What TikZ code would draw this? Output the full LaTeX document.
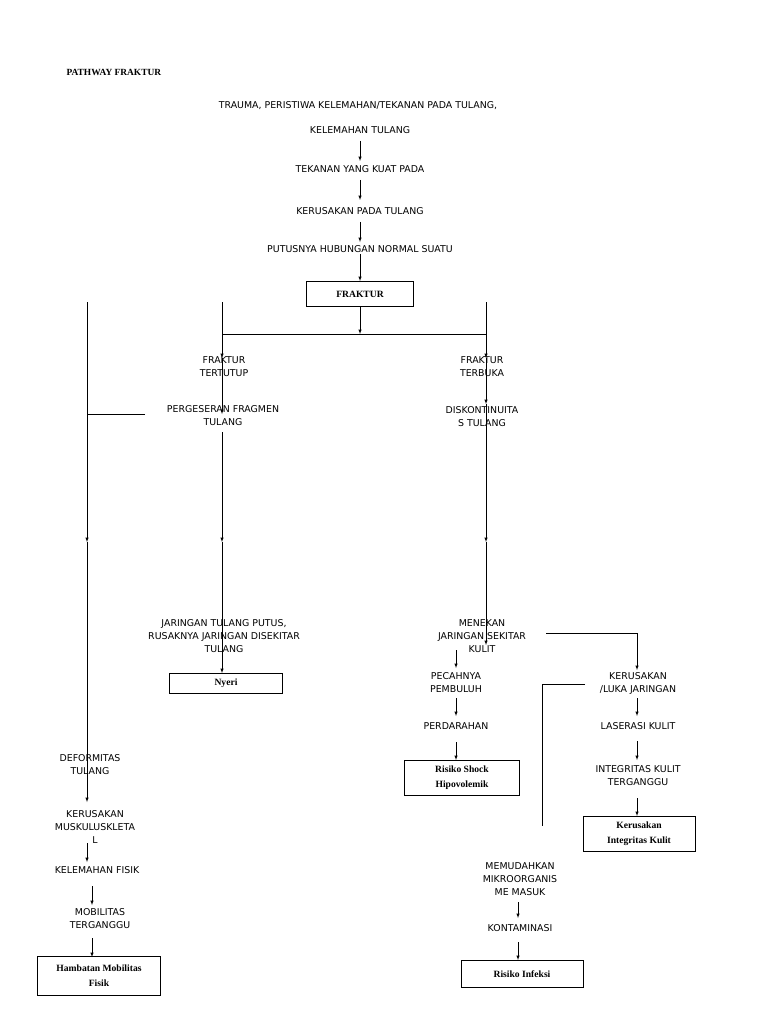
\documentclass[tikz,border=0pt]{standalone}
\usepackage{fontspec}
\setmainfont{DejaVu Sans}
\newfontfamily\boxfont{Liberation Serif}
\usetikzlibrary{positioning}
\tikzset{
  lbl/.style={font=\fontsize{9.4}{13}\selectfont, align=center, inner sep=1pt},
  res/.style={draw, line width=1pt, font=\boxfont\bfseries\fontsize{9.6}{15}\selectfont, align=center, inner sep=2pt},
  ar/.style={->, >=latex, line width=0.5pt},
  ln/.style={line width=0.5pt},
}
\begin{document}
\begin{tikzpicture}[x=1pt,y=-1pt]
  \useasboundingbox (0,0) rectangle (768,1024);
  \node[font=\boxfont\bfseries\fontsize{9.4}{9}\selectfont, anchor=west] (title) at (63,72) {PATHWAY FRAKTUR};

  % top chain
  \node[lbl] (trauma) at (358,106) {TRAUMA, PERISTIWA KELEMAHAN/TEKANAN PADA TULANG,};
  \node[lbl] (lemah) at (360,130) {KELEMAHAN TULANG};
  \node[lbl] (tekan) at (360,169) {TEKANAN YANG KUAT PADA};
  \node[lbl] (rusak) at (360,211) {KERUSAKAN PADA TULANG};
  \node[lbl] (putus) at (360,249) {PUTUSNYA HUBUNGAN NORMAL SUATU};
  \node[res, minimum width=107, minimum height=25] (fraktur) at (360,294) {FRAKTUR};
  \draw[ar] (360,141) -- (360,161);
  \draw[ar] (360,180) -- (360,200);
  \draw[ar] (360,222) -- (360,242);
  \draw[ar] (putus.south) -- (fraktur.north);

  % branch
  \coordinate (mid) at (360,334);
  \coordinate (bl) at (222,334);
  \coordinate (br) at (486,334);
  \draw[ar] (fraktur.south) -- (mid);
  \draw[ln] (bl) -- (br);

  % closed fracture
  \coordinate (ltop) at (222,302);
  \node[lbl] (tutup) at (224,367) {FRAKTUR\\TERTUTUP};
  \node[lbl] (geser) at (223,416) {PERGESERAN FRAGMEN\\TULANG};
  \node[lbl] (jar) at (224,636) {JARINGAN TULANG PUTUS,\\RUSAKNYA JARINGAN DISEKITAR\\TULANG};
  \node[res, minimum width=113, minimum height=20] (nyeri) at (226,683) {Nyeri};
  \draw[ar] (ltop) -- (222,358);
  \draw[ar] (222,358) -- (222,414);
  \draw[ar] (222,432) -- (222,542);
  \draw[ar] (222,542) -- (222,673);

  % open fracture
  \coordinate (rtop) at (486,302);
  \node[lbl] (buka) at (482,367) {FRAKTUR\\TERBUKA};
  \node[lbl] (disk) at (482,417) {DISKONTINUITA\\S TULANG};
  \node[lbl] (tekankulit) at (482,636) {MENEKAN\\JARINGAN SEKITAR\\KULIT};
  \draw[ar] (rtop) -- (486,358);
  \draw[ar] (486,358) -- (486,404);
  \draw[ar] (486,404) -- (486,542);
  \draw[ar] (486,542) -- (486,645);

  % bleeding branch
  \node[lbl] (pecah) at (456,683) {PECAHNYA\\PEMBULUH};
  \node[lbl] (darah) at (456,726) {PERDARAHAN};
  \node[res, minimum width=115, minimum height=35] (shock) at (462,778) {Risiko Shock\\Hipovolemik};
  \draw[ar] (456,650) -- (456,668);
  \draw[ar] (456,698) -- (456,716);
  \draw[ar] (456,742) -- (456,760);

  % skin branch
  \coordinate (kr) at (637,633);
  \draw[ar] (546,633) -- (kr) -- (637,670);
  \node[lbl] (luka) at (638,683) {KERUSAKAN\\/LUKA JARINGAN};
  \node[lbl] (laser) at (638,726) {LASERASI KULIT};
  \node[lbl] (integ) at (638,776) {INTEGRITAS KULIT\\TERGANGGU};
  \node[res, minimum width=112, minimum height=35] (kulit) at (639,834) {Kerusakan\\Integritas Kulit};
  \draw[ar] (637,698) -- (637,716);
  \draw[ar] (637,741) -- (637,760);
  \draw[ar] (637,798) -- (637,816);

  % infection branch
  \coordinate (ik) at (542,684);
  \draw[ln] (585,684) -- (ik) -- (542,826);
  \node[lbl] (mudah) at (520,879) {MEMUDAHKAN\\MIKROORGANIS\\ME MASUK};
  \node[lbl] (konta) at (520,928) {KONTAMINASI};
  \node[res, minimum width=122, minimum height=27] (infeksi) at (522,974) {Risiko Infeksi};
  \draw[ar] (518,902) -- (518,918);
  \draw[ar] (518,942) -- (518,960);

  % left branch
  \coordinate (ktop) at (87,302);
  \draw[ln] (145,414) -- (87,414);
  \draw[ar] (ktop) -- (87,542);
  \draw[ar] (87,542) -- (87,802);
  \node[lbl] (deform) at (90,765) {DEFORMITAS\\TULANG};
  \node[lbl] (musk) at (95,827) {KERUSAKAN\\MUSKULUSKLETA\\L};
  \node[lbl] (fisik) at (97,870) {KELEMAHAN FISIK};
  \node[lbl] (mobil) at (100,919) {MOBILITAS\\TERGANGGU};
  \node[res, minimum width=123, minimum height=39] (hambat) at (99,976) {Hambatan Mobilitas\\Fisik};
  \draw[ar] (87,843) -- (87,862);
  \draw[ar] (92,886) -- (92,905);
  \draw[ar] (92,938) -- (92,957);
\end{tikzpicture}
\end{document}
